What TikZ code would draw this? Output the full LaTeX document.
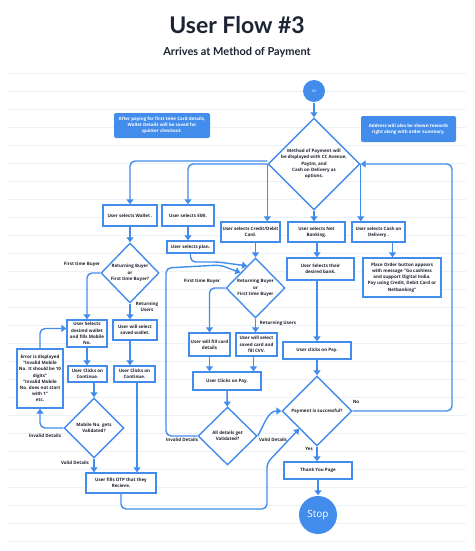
\documentclass[tikz,border=0pt]{standalone}
\usepackage{fontspec}
\setmainfont{Open Sans}
\newfontfamily\headfont{Lato}
\usetikzlibrary{shapes.geometric,arrows.meta,calc}
\definecolor{flowblue}{RGB}{66,140,235}
\definecolor{inkdark}{RGB}{30,34,45}
\definecolor{titleink}{RGB}{28,36,52}
\definecolor{gridgray}{RGB}{236,240,247}
\newcommand{\boxfont}{\bfseries\fontsize{4.5}{6.2}\selectfont}
\tikzset{every picture/.style={line width=1.4pt},
  box/.style={draw=flowblue, fill=white, text=inkdark, align=center, inner sep=1pt, font=\boxfont},
  decision/.style={diamond, draw=flowblue, fill=white, text=inkdark, align=center, inner sep=-2pt, font=\boxfont},
  note/.style={fill=flowblue, rounded corners=2pt, text=white, align=center, font=\boxfont},
  term/.style={circle, fill=flowblue, text=white, inner sep=0pt},
  flow/.style={draw=flowblue, rounded corners=5pt, -{Triangle[width=7pt,length=5pt]}},
  lbl/.style={text=inkdark, align=center, inner sep=0pt, font=\boxfont},
  gridline/.style={draw=gridgray, line width=0.6pt}}

\begin{document}
\begin{tikzpicture}[x=1pt,y=-1pt]
  \useasboundingbox (0,0) rectangle (474,551);
  \foreach \y in {73,91,...,541} \draw[gridline] (8,\y) -- (466,\y);

  \node[text=titleink, font=\headfont\bfseries\fontsize{23}{26}\selectfont] (title) at (237,25) {User Flow \#3};
  \node[text=titleink, font=\headfont\bfseries\fontsize{11}{13}\selectfont] (subtitle) at (237,52) {Arrives at Method of Payment};

  \node[term, minimum size=22pt, font=\fontsize{3.6}{4}\selectfont] (a3) at (314,91) {A3};
  \node[decision, minimum width=92pt, minimum height=92pt] (method) at (314,164) {Method of Payment will\\be displayed with CC Avenue,\\Paytm, and\\Cash on Delivery as\\options.};
  \node[note, minimum width=96pt, minimum height=25pt] (noteL) at (162,125.5) {After paying for first time Card details,\\Wallet Details will be saved for\\quicker checkout.};
  \node[note, minimum width=95pt, minimum height=26pt] (noteR) at (408.5,129) {Address will also be shown towards\\right along with order summary.};

  \node[box, minimum width=54pt, minimum height=21pt] (wallet) at (130,215.5) {User selects Wallet .};
  \node[box, minimum width=52pt, minimum height=21pt] (emi) at (188,215.5) {User selects EMI.};
  \node[box, minimum width=59pt, minimum height=20pt] (card) at (250.5,232) {User selects Credit/Debit\\Card.};
  \node[box, minimum width=57pt, minimum height=20pt] (netbank) at (316.5,232) {User selects Net\\Banking.};
  \node[box, minimum width=53pt, minimum height=20pt] (cod) at (378.5,232) {User selects Cash on\\Delivery .};

  \node[box, minimum width=47pt, minimum height=12pt] (plan) at (190.5,247) {User selects plan.};
  \node[box, minimum width=67pt, minimum height=22pt] (bank) at (320.5,269) {User Selects their\\desired bank.};
  \node[box, minimum width=78pt, minimum height=39pt] (placeorder) at (402,277.5) {Place Order button appears\\with message "Go cashless\\and support Digital India.\\Pay using Credit, Debit Card or\\Netbanking"};

  \node[decision, minimum width=58pt, minimum height=60pt] (wbuyer) at (130,273) {Returning Buyer\\or\\First time Buyer?};
  \node[box, minimum width=40pt, minimum height=27pt] (wdesired) at (87,333.5) {User Selects\\desired wallet\\and fills Mobile\\No.};
  \node[box, minimum width=44pt, minimum height=20pt] (wsaved) at (135,330) {User will select\\saved wallet.};
  \node[box, minimum width=46pt, minimum height=59pt] (error) at (40,378.5) {Error is displayed\\"Invalid Mobile\\No. It should be 10\\digits"\\"Invalid Mobile\\No. does not start\\with 1"\\etc.};
  \node[box, minimum width=39pt, minimum height=16pt] (wcont1) at (87.5,374) {User Clicks on\\Continue.};
  \node[box, minimum width=41pt, minimum height=16pt] (wcont2) at (134.5,374) {User Clicks on\\Continue.};
  \node[decision, minimum width=60pt, minimum height=60pt] (mobile) at (94,428) {Mobile No. gets\\Validated?};
  \node[box, minimum width=70pt, minimum height=20pt] (otp) at (121,483) {User fills OTP that they\\Recieve.};

  \node[decision, minimum width=59pt, minimum height=60pt] (cbuyer) at (255.5,288) {Returning Buyer\\or\\First time Buyer};
  \node[box, minimum width=41pt, minimum height=23pt] (fillcard) at (209.5,344.5) {User will fill card\\details};
  \node[box, minimum width=41pt, minimum height=23pt] (savedcard) at (256.5,344.5) {User will select\\saved card and\\fill CVV.};
  \node[box, minimum width=68pt, minimum height=18pt] (cpay) at (227,381) {User Clicks on Pay.};
  \node[decision, minimum width=59pt, minimum height=58pt] (alldet) at (227.5,436) {All details get\\Validated?};

  \node[box, minimum width=68pt, minimum height=17pt] (npay) at (317,350.5) {User clicks on Pay.};
  \node[decision, minimum width=70pt, minimum height=70pt] (payment) at (317,411) {Payment is successful?};
  \node[box, minimum width=68pt, minimum height=17pt] (thanks) at (318,470.5) {Thank You Page};
  \node[term, minimum size=38pt, font=\fontsize{10}{12}\selectfont] (stop) at (318,515) {Stop};

  \node[lbl] (lwfirst) at (82,264) {First time Buyer};
  \node[lbl] (lwret) at (147,307) {Returning\\Users};
  \node[lbl] (lminv) at (45,436) {Invalid Details};
  \node[lbl] (lmval) at (75,463) {Valid Details};
  \node[lbl] (lcfirst) at (202,281) {First time Buyer};
  \node[lbl] (lcret) at (278,323) {Returning Users};
  \node[lbl] (lainv) at (182,440) {Invalid Details};
  \node[lbl] (laval) at (273,440) {Valid Details};
  \node[lbl] (lno) at (356,402) {No};
  \node[lbl] (lyes) at (309,449) {Yes};

  \coordinate (planbend) at (218,262);
  \coordinate (invcorner) at (166,268);
  \coordinate (invtop) at (220,265);
  \coordinate (otpbend) at (267,509);
  \coordinate (otpup) at (267,463);
  \coordinate (nocorner) at (452,300);

  \draw[flow] (a3) -- (method);
  \draw[flow] ([yshift=3pt]method.west) -| (wallet.north);
  \draw[flow] (method.west) -| (emi.north);
  \draw[flow] (method.west) -- (method.west |- card.north);
  \draw[flow] (method.south) -- (method.south |- netbank.north);
  \draw[flow] (method.east) -- (method.east |- cod.north);

  \draw[flow] (wallet) -- (wbuyer);
  \draw[flow] (emi.south) -- (emi.south |- plan.north);
  \draw[flow] (cbuyer.north |- card.south) -- (cbuyer.north);
  \draw[flow] (npay.north |- netbank.south) -- (npay.north |- bank.north);
  \draw[flow] ([xshift=14pt]cod.south) -- ([xshift=14pt]cod.south |- placeorder.north);
  \draw[flow] (plan.south) |- (planbend) -- ($(cbuyer.west)!0.72!(cbuyer.north)$);

  \draw[flow] (wbuyer.west) -| (wdesired.north);
  \draw[flow] (wbuyer.south) -- (wbuyer.south |- wsaved.north);
  \draw[flow] (wdesired.south) -- (wdesired.south |- wcont1.north);
  \draw[flow] (wbuyer.south |- wsaved.south) -- (wbuyer.south |- wcont2.north);
  \draw[flow] (mobile.north |- wcont1.south) -- (mobile.north);
  \draw[flow] (mobile.west) -| (error.south);
  \draw[flow] (error.north) |- ([yshift=5pt]wdesired.west);
  \draw[flow] (mobile.south) -- (mobile.south |- otp.north);
  \draw[flow] ([xshift=2.5pt]wcont2.south) -- ([xshift=2.5pt]wcont2.south |- otp.north);
  \draw[flow] (otp.south) |- (otpbend) -- (otpup) -- (payment.south west);

  \draw[flow] (cbuyer.west) -| (fillcard.north);
  \draw[flow] (cbuyer.south) -- (cbuyer.south |- savedcard.north);
  \draw[flow] (fillcard.south) -- (fillcard.south |- cpay.north);
  \draw[flow] ([xshift=-3pt]savedcard.south) -- ([xshift=-3pt]savedcard.south |- cpay.north);
  \draw[flow] (cpay) -- (alldet);
  \draw[flow] (alldet.west) -| (invcorner) -- (invtop) -- (cbuyer.north west);
  \draw[flow] (alldet.east) to[out=60, in=180] (payment.west);

  \draw[flow] (npay.north |- bank.south) -- (npay.north);
  \draw[flow] (npay) -- (payment);
  \draw[flow] (payment.east) -| (nocorner) |- (method.east);
  \draw[flow] (payment.south) -- (payment.south |- thanks.north);
  \draw[flow] (thanks) -- (stop);
\end{tikzpicture}
\end{document}
